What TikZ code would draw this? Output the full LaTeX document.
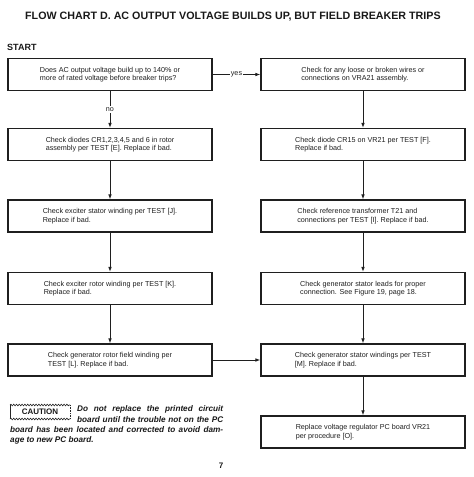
\documentclass[tikz,border=0pt]{standalone}
\usepackage{fontspec}
\setmainfont{Liberation Sans}
\usetikzlibrary{arrows.meta,decorations.pathmorphing}
\begin{document}
\begin{tikzpicture}[x=1pt,y=-1pt,
  stepbox/.style={draw=black!88,line width=1.1pt,rectangle,minimum width=204pt,minimum height=32pt,
     align=left,inner sep=0pt,text=black!88,font=\fontsize{7.2}{8.3}\selectfont},
  flow/.style={draw=black!88,line width=0.9pt,-{Latex[length=5pt,width=3.6pt]}},
  lbl/.style={fill=white,inner sep=1.2pt,text=black!88,font=\fontsize{7.2}{8.3}\selectfont},
  cautionline/.style={black!85,line width=0.6pt},
  cauttext/.style={anchor=base west,inner sep=0pt,text=black!90,font=\fontsize{8.2}{10.3}\selectfont\bfseries\itshape}]
\useasboundingbox[fill=white] (0,0) rectangle (474,477);

\node[anchor=base west,inner sep=0pt,text=black!90,font=\fontsize{10.7}{12}\selectfont\bfseries] (title) at (25,19.5)
  {FLOW CHART D. AC OUTPUT VOLTAGE BUILDS UP, BUT FIELD BREAKER TRIPS};
\node[anchor=base west,inner sep=0pt,text=black!90,font=\fontsize{9}{10}\selectfont\bfseries] (start) at (7,50.5) {START};

\node[stepbox] (L1) at (110,74.5) {Does AC output voltage build up to 140\% or\\more of rated voltage before breaker trips?};
\node[stepbox] (R1) at (363,74.5) {Check for any loose or broken wires or\\connections on VRA21 assembly.};
\node[stepbox] (L2) at (110,144.5) {Check diodes CR1,2,3,4,5 and 6 in rotor\\assembly per TEST [E]. Replace if bad.};
\node[stepbox] (R2) at (363,144.5) {Check diode CR15 on VR21 per TEST [F].\\Replace if bad.};
\node[stepbox] (L3) at (110,216) {Check exciter stator winding per TEST [J].\\Replace if bad.};
\node[stepbox] (R3) at (363,216) {Check reference transformer T21 and\\connections per TEST [I]. Replace if bad.};
\node[stepbox] (L4) at (110,288.5) {Check exciter rotor winding per TEST [K].\\Replace if bad.};
\node[stepbox] (R4) at (363,288.5) {Check generator stator leads for proper\\connection. See Figure 19, page 18.};
\node[stepbox] (L5) at (110,360) {Check generator rotor field winding per\\TEST [L]. Replace if bad.};
\node[stepbox] (R5) at (363,360) {Check generator stator windings per TEST\\{[M]}. Replace if bad.};
\node[stepbox] (R6) at (363,432) {Replace voltage regulator PC board VR21\\per procedure [O].};

\draw[flow] (L1) -- node[lbl] {yes} (R1);
\draw[flow] (L1) -- node[lbl] {no} (L2);
\draw[flow] (L2) -- (L3);
\draw[flow] (L3) -- (L4);
\draw[flow] (L4) -- (L5);
\draw[flow] (L5) -- (R5);
\draw[flow] (R1) -- (R2);
\draw[flow] (R2) -- (R3);
\draw[flow] (R3) -- (R4);
\draw[flow] (R4) -- (R5);
\draw[flow] (R5) -- (R6);

% caution box
\coordinate (c1) at (10,405);
\coordinate (c2) at (70,405);
\coordinate (c3) at (70,419);
\coordinate (c4) at (10,419);
\draw[cautionline,decorate,decoration={snake,amplitude=0.8pt,segment length=2.8pt}] (c1) -- (c2);
\draw[cautionline,decorate,decoration={snake,amplitude=0.8pt,segment length=2.8pt}] (c4) -- (c3);
\draw[cautionline] (c1) -- (c4);
\draw[cautionline,densely dotted] (c2) -- (c3);
\node[inner sep=0pt,text=black!90,font=\fontsize{8}{9}\selectfont\bfseries] (caution) at (40,412) {CAUTION};
\node[cauttext] (ct1) at (77,411.7)
  {\hbox to 146pt{Do\hfill not\hfill replace\hfill the\hfill printed\hfill circuit}};
\node[cauttext] (ct2) at (77,422.0)
  {\hbox to 146pt{board\hfill until\hfill the\hfill trouble\hfill not\hfill on\hfill the\hfill PC}};
\node[cauttext] (ct3) at (10,432.3)
  {\hbox to 213pt{board\hfill has\hfill been\hfill located\hfill and\hfill corrected\hfill to\hfill avoid\hfill dam-}};
\node[cauttext] (ct4) at (10,442.6) {age to new PC board.};

\node[inner sep=0pt,text=black!90,font=\fontsize{8}{9}\selectfont\bfseries] (page) at (221,466) {7};
\end{tikzpicture}
\end{document}
